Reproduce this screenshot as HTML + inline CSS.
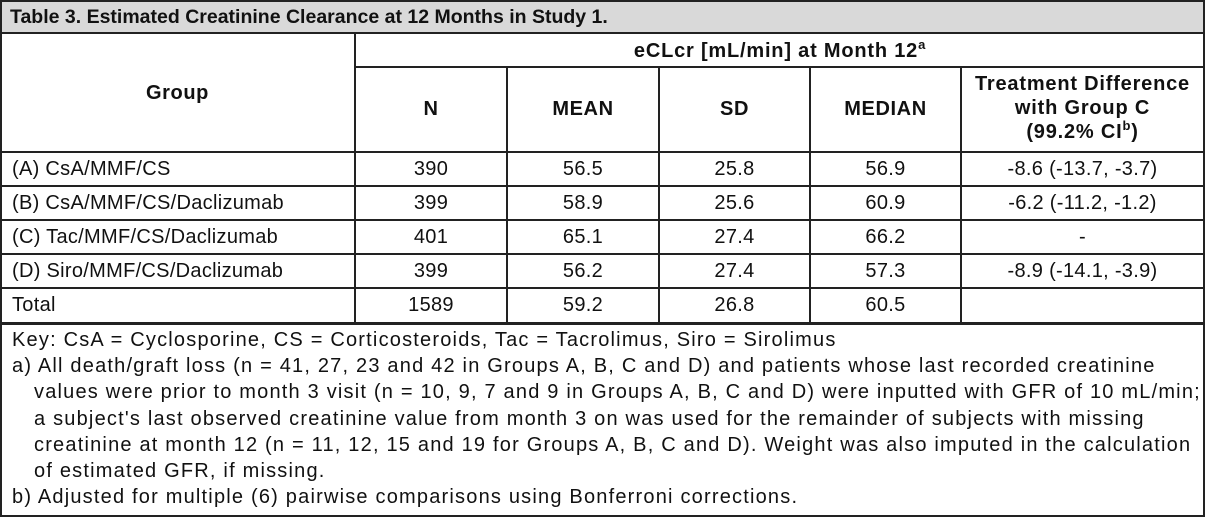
<!DOCTYPE html>
<html><head><meta charset="utf-8"><style>
body{margin:0;width:1205px;height:517px;background:#fff;position:relative;overflow:hidden;font-family:"Liberation Sans",Arial,sans-serif;color:#111;font-size:20px;letter-spacing:0.3px}
.h,.v{position:absolute;background:#222}
.h{height:2px}.v{width:2px}
.t{position:absolute;display:flex;align-items:center;justify-content:center;text-align:center;white-space:nowrap}
.l{justify-content:flex-start;padding-left:12px}
.b{font-weight:bold;letter-spacing:0.6px}
.hd{position:absolute;text-align:center;font-weight:bold;letter-spacing:0.8px;line-height:24px;white-space:nowrap}
sup{font-size:13px;vertical-align:8px;line-height:0}
.fn{position:absolute;left:12px;top:327px;line-height:26.2px;white-space:nowrap;letter-spacing:1.2px}
</style></head><body>
<div style="position:absolute;left:0;top:0;width:1205px;height:33px;background:#d9d9d9"></div>
<div class="h" style="left:0;top:0;width:1205px"></div>
<div class="h" style="left:0;top:32px;width:1205px"></div>
<div class="h" style="left:355px;top:66px;width:850px"></div>
<div class="h" style="left:0;top:151px;width:1205px"></div>
<div class="h" style="left:0;top:185px;width:1205px"></div>
<div class="h" style="left:0;top:219px;width:1205px"></div>
<div class="h" style="left:0;top:253px;width:1205px"></div>
<div class="h" style="left:0;top:287px;width:1205px"></div>
<div class="h" style="left:0;top:322px;width:1205px;height:3px"></div>
<div class="h" style="left:0;top:515px;width:1205px"></div>
<div class="v" style="left:0;top:0;height:517px"></div>
<div class="v" style="left:1203px;top:0;height:517px"></div>
<div class="v" style="left:354px;top:33px;height:290px"></div>
<div class="v" style="left:506px;top:67px;height:256px"></div>
<div class="v" style="left:658px;top:67px;height:256px"></div>
<div class="v" style="left:809px;top:67px;height:256px"></div>
<div class="v" style="left:960px;top:67px;height:256px"></div>

<div class="t l" style="left:0;top:2px;height:30px;padding-left:10px;font-weight:bold;font-size:19.5px;letter-spacing:0">Table 3. Estimated Creatinine Clearance at 12 Months in Study 1.</div>
<div class="t b" style="left:0;top:34px;width:355px;height:118px">Group</div>
<div class="hd" style="left:355px;top:39px;width:850px">eCLcr [mL/min] at Month 12<sup>a</sup></div>
<div class="t b" style="left:355px;top:67px;width:152px;height:85px">N</div>
<div class="t b" style="left:507px;top:67px;width:152px;height:85px">MEAN</div>
<div class="t b" style="left:659px;top:67px;width:151px;height:85px">SD</div>
<div class="t b" style="left:810px;top:67px;width:151px;height:85px">MEDIAN</div>
<div class="hd" style="left:961px;top:72px;width:243px">Treatment Difference<br>with Group C<br>(99.2% CI<sup>b</sup>)</div>

<div class="t l" style="left:0;top:153px;height:33px">(A) CsA/MMF/CS</div>
<div class="t" style="left:355px;top:153px;width:152px;height:33px">390</div>
<div class="t" style="left:507px;top:153px;width:152px;height:33px">56.5</div>
<div class="t" style="left:659px;top:153px;width:151px;height:33px">25.8</div>
<div class="t" style="left:810px;top:153px;width:151px;height:33px">56.9</div>
<div class="t" style="left:961px;top:153px;width:243px;height:33px">-8.6 (-13.7, -3.7)</div>

<div class="t l" style="left:0;top:187px;height:33px">(B) CsA/MMF/CS/Daclizumab</div>
<div class="t" style="left:355px;top:187px;width:152px;height:33px">399</div>
<div class="t" style="left:507px;top:187px;width:152px;height:33px">58.9</div>
<div class="t" style="left:659px;top:187px;width:151px;height:33px">25.6</div>
<div class="t" style="left:810px;top:187px;width:151px;height:33px">60.9</div>
<div class="t" style="left:961px;top:187px;width:243px;height:33px">-6.2 (-11.2, -1.2)</div>

<div class="t l" style="left:0;top:221px;height:33px">(C) Tac/MMF/CS/Daclizumab</div>
<div class="t" style="left:355px;top:221px;width:152px;height:33px">401</div>
<div class="t" style="left:507px;top:221px;width:152px;height:33px">65.1</div>
<div class="t" style="left:659px;top:221px;width:151px;height:33px">27.4</div>
<div class="t" style="left:810px;top:221px;width:151px;height:33px">66.2</div>
<div class="t" style="left:961px;top:221px;width:243px;height:33px">-</div>

<div class="t l" style="left:0;top:255px;height:33px">(D) Siro/MMF/CS/Daclizumab</div>
<div class="t" style="left:355px;top:255px;width:152px;height:33px">399</div>
<div class="t" style="left:507px;top:255px;width:152px;height:33px">56.2</div>
<div class="t" style="left:659px;top:255px;width:151px;height:33px">27.4</div>
<div class="t" style="left:810px;top:255px;width:151px;height:33px">57.3</div>
<div class="t" style="left:961px;top:255px;width:243px;height:33px">-8.9 (-14.1, -3.9)</div>

<div class="t l" style="left:0;top:289px;height:33px">Total</div>
<div class="t" style="left:355px;top:289px;width:152px;height:33px">1589</div>
<div class="t" style="left:507px;top:289px;width:152px;height:33px">59.2</div>
<div class="t" style="left:659px;top:289px;width:151px;height:33px">26.8</div>
<div class="t" style="left:810px;top:289px;width:151px;height:33px">60.5</div>

<div class="fn">
Key: CsA = Cyclosporine, CS = Corticosteroids, Tac = Tacrolimus, Siro = Sirolimus<br>
a) All death/graft loss (n = 41, 27, 23 and 42 in Groups A, B, C and D) and patients whose last recorded creatinine<br>
<span style="padding-left:22px">values were prior to month 3 visit (n = 10, 9, 7 and 9 in Groups A, B, C and D) were inputted with GFR of 10 mL/min;</span><br>
<span style="padding-left:22px">a subject's last observed creatinine value from month 3 on was used for the remainder of subjects with missing</span><br>
<span style="padding-left:22px">creatinine at month 12 (n = 11, 12, 15 and 19 for Groups A, B, C and D). Weight was also imputed in the calculation</span><br>
<span style="padding-left:22px">of estimated GFR, if missing.</span><br>
b) Adjusted for multiple (6) pairwise comparisons using Bonferroni corrections.
</div>
</body></html>
